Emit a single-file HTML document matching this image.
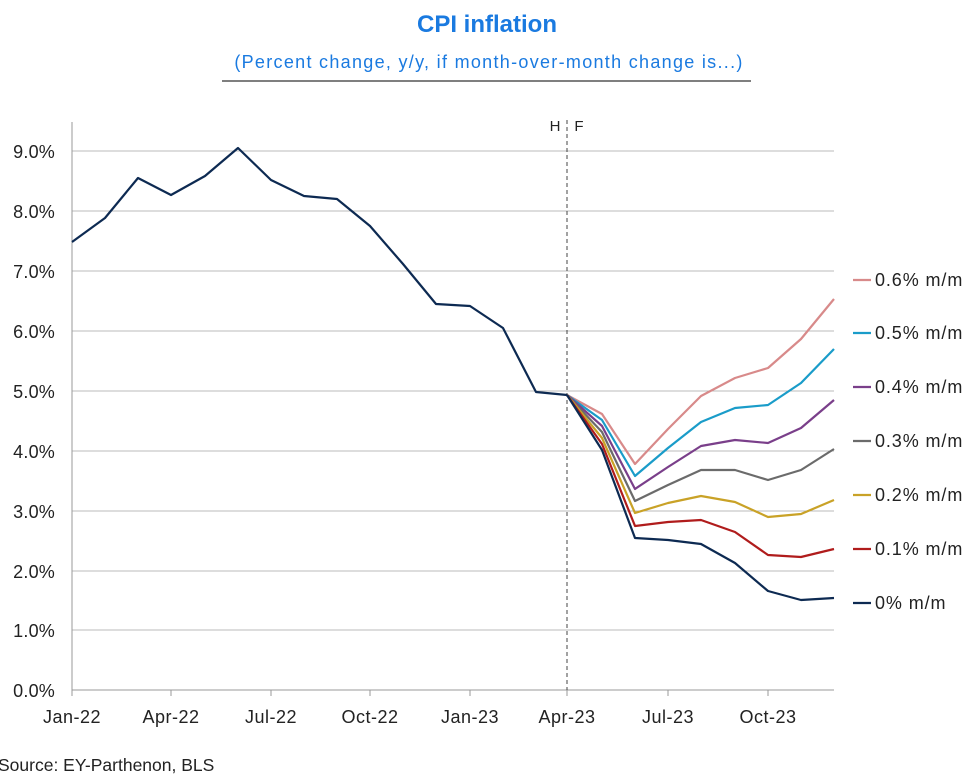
<!DOCTYPE html>
<html><head><meta charset="utf-8"><style>
html,body{margin:0;padding:0;background:#fff;}
svg{display:block;font-family:"Liberation Sans",sans-serif;}
</style></head><body>
<svg width="975" height="783" viewBox="0 0 975 783" xmlns="http://www.w3.org/2000/svg">
<text x="487" y="32" text-anchor="middle" font-size="24" font-weight="bold" fill="#1a7ae0">CPI inflation</text>
<text x="489" y="68" text-anchor="middle" font-size="18" letter-spacing="1.3" fill="#1a7ae0">(Percent change, y/y, if month-over-month change is...)</text>
<line x1="222" y1="81" x2="751" y2="81" stroke="#555" stroke-width="1.5"/>
<g stroke="#bbb" stroke-width="1">
<line x1="72" y1="151" x2="834" y2="151"/><line x1="72" y1="211" x2="834" y2="211"/>
<line x1="72" y1="271" x2="834" y2="271"/><line x1="72" y1="331" x2="834" y2="331"/>
<line x1="72" y1="391" x2="834" y2="391"/><line x1="72" y1="451" x2="834" y2="451"/>
<line x1="72" y1="511" x2="834" y2="511"/><line x1="72" y1="571" x2="834" y2="571"/>
<line x1="72" y1="630" x2="834" y2="630"/>
</g>
<line x1="72" y1="122" x2="72" y2="690" stroke="#999"/>
<line x1="72" y1="690" x2="834" y2="690" stroke="#999"/>
<g stroke="#999">
<line x1="72" y1="690" x2="72" y2="696"/><line x1="171" y1="690" x2="171" y2="696"/><line x1="271" y1="690" x2="271" y2="696"/><line x1="370" y1="690" x2="370" y2="696"/><line x1="470" y1="690" x2="470" y2="696"/><line x1="567" y1="690" x2="567" y2="696"/><line x1="668" y1="690" x2="668" y2="696"/><line x1="768" y1="690" x2="768" y2="696"/>
</g>
<line x1="567" y1="120" x2="567" y2="690" stroke="#444" stroke-dasharray="4,3"/>
<text x="555" y="131" text-anchor="middle" font-size="15" fill="#222">H</text>
<text x="579" y="131" text-anchor="middle" font-size="15" fill="#222">F</text>
<g font-size="18" fill="#222" text-anchor="end" letter-spacing="0.2">
<text x="55" y="158">9.0%</text><text x="55" y="218">8.0%</text><text x="55" y="278">7.0%</text>
<text x="55" y="338">6.0%</text><text x="55" y="398">5.0%</text><text x="55" y="458">4.0%</text>
<text x="55" y="518">3.0%</text><text x="55" y="578">2.0%</text><text x="55" y="637">1.0%</text>
<text x="55" y="697">0.0%</text>
</g>
<g font-size="18" fill="#222" text-anchor="middle" letter-spacing="0.5">
<text x="72" y="723">Jan-22</text><text x="171" y="723">Apr-22</text><text x="271" y="723">Jul-22</text>
<text x="370" y="723">Oct-22</text><text x="470" y="723">Jan-23</text><text x="567" y="723">Apr-23</text>
<text x="668" y="723">Jul-23</text><text x="768" y="723">Oct-23</text>
</g>
<g fill="none" stroke-width="2.2" stroke-linejoin="round">
<polyline stroke="#d88a8a" points="567,395 602,414 635,464 668,429 701,396 735,378 768,368 801,339 834,299"/>
<polyline stroke="#1a9cc9" points="567,395 602,420 635,476 668,448 701,422 735,408 768,405 801,383 834,349"/>
<polyline stroke="#7a3f8a" points="567,395 602,426 635,489 668,467 701,446 735,440 768,443 801,428 834,400"/>
<polyline stroke="#6b6b6b" points="567,395 602,432 635,501 668,485 701,470 735,470 768,480 801,470 834,449"/>
<polyline stroke="#c9a227" points="567,395 602,438 635,513 668,503 701,496 735,502 768,517 801,514 834,500"/>
<polyline stroke="#b01c1c" points="567,395 602,444 635,526 668,522 701,520 735,532 768,555 801,557 834,549"/>
<polyline stroke="#0d2a52" points="567,395 602,450 635,538 668,540 701,544 735,563 768,591 801,600 834,598"/>
<polyline stroke="#0d2a52" points="72,242 105,218 138,178 171,195 205,176 238,148 271,180 304,196 337,199 370,226 403,264 436,304 470,306 503,328 536,392 567,395"/>
</g>
<g stroke-width="2.2">
<line x1="853" y1="280" x2="871" y2="280" stroke="#d88a8a"/>
<line x1="853" y1="333" x2="871" y2="333" stroke="#1a9cc9"/>
<line x1="853" y1="387" x2="871" y2="387" stroke="#7a3f8a"/>
<line x1="853" y1="441" x2="871" y2="441" stroke="#6b6b6b"/>
<line x1="853" y1="495" x2="871" y2="495" stroke="#c9a227"/>
<line x1="853" y1="549" x2="871" y2="549" stroke="#b01c1c"/>
<line x1="853" y1="603" x2="871" y2="603" stroke="#0d2a52"/>
</g>
<g font-size="18" fill="#222" letter-spacing="0.9">
<text x="875" y="286">0.6% m/m</text><text x="875" y="339">0.5% m/m</text>
<text x="875" y="393">0.4% m/m</text><text x="875" y="447">0.3% m/m</text>
<text x="875" y="501">0.2% m/m</text><text x="875" y="555">0.1% m/m</text>
<text x="875" y="609">0% m/m</text>
</g>
<text x="-2" y="771" font-size="17.5" fill="#222">Source: EY-Parthenon, BLS</text>
</svg>
</body></html>
